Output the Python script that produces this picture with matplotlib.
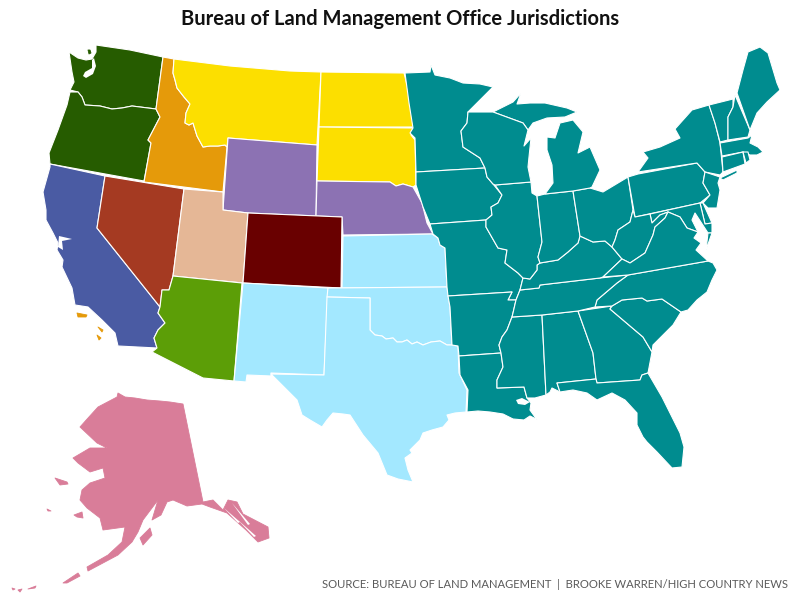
import matplotlib
matplotlib.use("Agg")
import matplotlib.pyplot as plt

# state outlines (x, y in picture pixels)
red_river = [(370,330),(375,335),(382,336),(386,339),(393,338),(397,342),(402,342),(407,340),(412,344),(417,342),(423,345),(431,342),(440,341),(447,345),(452,345)]
id_mt = [(174,59),(173,73),(175,80),(177,88),(184,97),(190,104),(186,113),(185,123),(189,125),(193,123),(197,136),(203,147),(210,146),(218,146),(225,145),(227,147)]

wa = [(96,45),(130,50),(163,57),(156,109),(132,106),(122,108),(112,109),(100,106),(85,105),(82,97),(78,92),(70,90),(74,82),(72,72),(69,52),(78,58),(86,60),(92,59),(96,52)]
or_ = [(70,92),(78,92),(82,97),(85,105),(100,106),(112,109),(122,108),(132,106),(156,109),(160,117),(148,140),(151,143),(144,181),(50,164),(49,153),(58,130),(67,105)]
id_ = [(163,57)] + id_mt + [(223,192),(144,182),(151,143),(148,140),(160,117),(156,109)]
mt = [(174,59),(230,66),(290,71),(321,72),(317,145),(228,138)] + id_mt[::-1][:-1]
wy = [(228,138),(317,145),(316,216),(248,213),(223,210)]
nd = [(321,72),(404,73),(410,97),(414,127),(319,127)]
sd = [(319,127),(413,128),(411,135),(415,140),(416,185),(413,187),(403,184),(396,186),(390,182),(317,181)]
ne = [(317,181),(390,182),(396,186),(403,184),(413,187),(422,203),(427,223),(433,234),(343,235),(342,217),(316,216)]
co = [(248,213),(342,217),(341,288),(243,283)]
ut = [(184,189),(223,192),(223,210),(248,213),(243,283),(173,276)]
nv = [(105,176),(184,189),(173,276),(169,290),(162,290),(160,307),(97,228)]
ca = [(50,164),(105,176),(97,228),(160,307),(158,313),(165,323),(158,330),(154,338),(157,348),(118,346),(115,333),(102,320),(88,307),(75,305),(72,288),(62,267),(63,260),(57,250),(58,243),(53,233),(46,220),(46,210),(43,192),(50,167)]
az = [(173,276),(242,283),(234,381),(203,378),(152,352),(157,348),(154,338),(158,330),(165,323),(158,313),(160,307),(162,290),(169,290)]
nm = [(243,283),(328,288),(324,375),(271,373),(271,376),(247,375),(246,382),(234,381)]
ks = [(343,236),(432,234),(438,238),(440,245),(445,248),(447,287),(342,288)]
ok = [(328,288),(447,287),(450,307),(452,345)] + red_river[::-1] + [(370,298),(327,297)]
tx = [(327,297),(370,298)] + red_river + [(458,346),(459,373),(467,390),(466,412),(455,413),(447,415),(449,420),(443,427),(432,430),(423,433),(420,440),(410,450),(412,453),(405,458),(408,470),(413,482),(398,479),(387,475),(378,453),(363,435),(350,415),(343,414),(333,413),(327,420),(322,427),(310,420),(302,415),(297,400),(271,374),(324,375)]
mn = [(405,73),(430,72),(431,65),(435,75),(450,78),(463,83),(480,84),(493,87),(468,112),(467,123),(461,131),(463,147),(480,158),(485,168),(416,172),(415,138),(410,133),(413,128),(409,103)]
ia = [(416,172),(485,168),(487,177),(493,184),(502,195),(498,203),(491,207),(492,215),(486,220),(430,224),(423,207),(416,185)]
mo = [(430,224),(486,220),(486,227),(498,248),(507,250),(505,263),(518,273),(523,278),(520,290),(516,300),(508,300),(512,292),(448,296),(447,287),(445,248),(440,245),(438,238),(433,234)]
ar = [(448,296),(512,292),(508,300),(516,300),(513,313),(512,317),(507,330),(502,337),(499,345),(501,353),(459,356),(458,346),(452,345),(450,307)]
la = [(459,356),(501,353),(503,367),(497,380),(497,388),(524,387),(527,398),(531,403),(530,410),(535,417),(538,420),(530,416),(524,420),(513,419),(503,414),(490,412),(478,411),(467,412),(468,390),(460,375)]
ms = [(512,317),(542,315),(546,395),(535,398),(527,398),(524,387),(497,388),(497,380),(503,367),(501,353),(499,345),(502,337),(507,330)]
al = [(542,315),(578,311),(593,353),(596,379),(557,383),(560,392),(552,388),(550,392),(546,395)]
ga = [(578,311),(612,306),(610,309),(643,337),(652,352),(648,373),(642,375),(640,380),(597,383),(596,379),(593,353)]
fl = [(557,383),(596,379),(597,383),(640,380),(642,375),(648,373),(662,397),(680,433),(684,447),(682,467),(672,468),(657,452),(647,442),(643,437),(637,425),(637,413),(625,400),(612,393),(597,400),(587,393),(573,390),(560,392)]
sc = [(612,306),(622,300),(642,298),(647,301),(662,299),(681,312),(673,325),(653,345),(652,352),(643,337),(610,309)]
nc = [(708,261),(713,263),(717,270),(712,280),(707,292),(697,300),(688,310),(681,312),(662,299),(647,301),(642,298),(622,300),(612,306),(595,307),(597,300),(617,283),(628,275)]
tn = [(628,275),(600,278),(540,285),(539,288),(520,290),(516,300),(513,313),(512,317),(542,315),(578,311),(595,307),(597,300),(617,283)]
ky = [(523,278),(520,290),(539,288),(540,285),(600,278),(603,277),(622,259),(612,247),(605,241),(593,242),(580,236),(578,243),(568,252),(558,260),(540,263),(537,265),(537,270),(530,279)]
il = [(495,185),(531,182),(532,193),(537,196),(542,242),(538,257),(540,263),(537,265),(537,270),(530,279),(523,278),(518,273),(505,263),(507,250),(498,248),(486,227),(486,220),(492,215),(491,207),(498,203),(502,195)]
in_ = [(537,196),(545,194),(573,191),(580,236),(578,243),(568,252),(558,260),(540,263),(538,257),(542,242)]
oh = [(573,191),(590,188),(603,192),(628,177),(633,210),(630,222),(618,230),(615,240),(612,247),(605,241),(593,242),(580,236)]
mi_lower = [(545,194),(553,183),(552,165),(547,150),(547,137),(555,138),(560,123),(573,120),(583,132),(578,153),(590,147),(600,170),(592,187),(590,188),(573,191)]
mi_upper = [(493,112),(513,102),(521,93),(517,104),(530,103),(545,103),(567,108),(577,112),(565,117),(547,118),(533,123),(528,130),(523,123)]
wi = [(468,112),(485,112),(493,112),(523,123),(528,130),(524,146),(531,138),(529,157),(528,167),(531,182),(495,185),(493,184),(487,177),(485,168),(480,158),(463,147),(461,131),(467,123)]
pa = [(628,177),(638,174),(697,163),(705,172),(703,183),(710,195),(700,203),(635,217)]
ny = [(638,172),(648,158),(643,152),(660,147),(680,138),(675,129),(692,110),(709,105),(715,123),(720,143),(723,172),(720,175),(705,172),(697,163)]
long_island = [(720,178),(737,170),(737,173),(723,180)]
vt = [(709,105),(733,99),(733,107),(728,117),(728,140),(720,142),(715,123)]
nh = [(735,95),(750,130),(748,137),(728,140),(728,117),(733,107)]
me = [(737,93),(743,70),(748,52),(760,47),(768,53),(777,83),(780,90),(767,102),(757,113),(750,130)]
ma = [(720,143),(748,138),(752,135),(750,143),(758,147),(763,152),(757,155),(750,155),(743,152),(722,156)]
ct = [(722,157),(743,152),(745,164),(723,172)]
ri = [(743,152),(748,152),(750,160),(746,163)]
nj = [(705,172),(720,177),(718,183),(720,190),(717,208),(708,208),(703,203),(710,195),(703,183)]
de = [(700,203),(703,203),(712,223),(705,224)]
md = [(650,214),(700,203),(705,224),(712,223),(712,233),(708,233),(695,213),(692,220),(698,232),(687,228),(680,217),(668,212),(660,215),(652,223)]
wv = [(633,210),(635,217),(650,214),(652,223),(660,215),(668,212),(665,218),(655,227),(653,235),(645,253),(630,263),(622,259),(612,247),(615,240),(618,230),(630,222)]
va = [(603,277),(622,259),(630,263),(645,253),(653,235),(655,227),(665,218),(668,212),(680,217),(687,228),(698,232),(694,238),(701,243),(696,250),(708,261),(628,275)]
va_shore = [(708,233),(712,233),(706,250)]
ak = [(118,393),(125,397),(135,398),(147,400),(160,401),(170,402),(183,404),(203,502),(213,500),(223,510),(228,500),(237,502),(243,514),(268,527),(269,538),(258,542),(246,530),(227,513),(210,507),(202,504),(187,506),(173,500),(167,502),(161,515),(152,520),(158,500),(143,520),(138,532),(132,542),(118,555),(88,571),(87,567),(108,555),(122,542),(125,527),(103,530),(100,518),(87,508),(80,500),(82,490),(90,483),(105,478),(103,468),(90,472),(78,463),(73,458),(90,448),(107,448),(97,443),(80,427),(88,418),(98,407),(117,397)]
kodiak = [(140,538),(150,528),(152,535),(143,545)]
nunivak = [(74,515),(82,512),(83,518),(77,517)]
st_lawrence = [(55,478),(67,482),(68,484),(60,485)]
aleut_1 = [(63,583),(78,573),(80,576),(67,583)]
aleut_2 = [(28,589),(36,586),(35,588)]
aleut_3 = [(18,590),(22,589),(20,592)]
aleut_4 = [(12,588),(15,589),(13,590)]
st_matthew = [(47,509),(51,511),(48,511)]
san_juan = [(88,50),(90,50),(91,53),(89,54)]
channel_1 = [(77,313),(87,315),(86,317),(78,317)]
channel_2 = [(98,327),(103,330),(102,332)]
channel_3 = [(97,335),(101,338),(99,340)]

# water cut into the land
puget = [(85,72),(83,76),(86,78),(93,74),(96,66),(94,58),(92,60),(92,68)]
sf_bay = [(59,236),(72,239),(62,241),(63,250),(58,247)]
pontchartrain = [(516,400),(522,398),(530,402),(525,405),(518,404)]
ak_inner_1 = [(232,503),(250,524),(248,525)]
ak_inner_2 = [(238,520),(256,536),(254,537)]
ak_inner_3 = [(224,508),(240,522),(238,523)]

green, orange, yellow, purple = "#265c00", "#e59a0a", "#fcdf00", "#8c72b3"
blue, rust, tan, maroon = "#4a5ba3", "#a53a22", "#e5b796", "#690000"
lime, sky, teal, pink = "#5c9e07", "#a3e8ff", "#008c8f", "#d97d99"

office_states = [
    (green, [wa, or_]),
    (orange, [id_]),
    (yellow, [mt, nd, sd]),
    (purple, [wy, ne]),
    (blue, [ca]),
    (rust, [nv]),
    (tan, [ut]),
    (maroon, [co]),
    (lime, [az]),
    (sky, [nm, ks, ok, tx]),
    (teal, [mn, ia, mo, ar, la, ms, al, ga, fl, sc, nc, tn, ky, il, in_, oh, mi_lower, mi_upper, wi,
            pa, ny, long_island, vt, nh, me, ma, ct, ri, nj, de, md, wv, va, va_shore]),
]
no_border = [
    (orange, [channel_1, channel_2, channel_3]),
    (green, [san_juan]),
    (pink, [ak, kodiak, nunivak, st_lawrence, aleut_1, aleut_2, aleut_3, aleut_4, st_matthew]),
]
water = [puget, sf_bay, pontchartrain, ak_inner_1, ak_inner_2, ak_inner_3]

fig = plt.figure(figsize=(8, 6), dpi=100)
ax = fig.add_axes([0, 0, 1, 1])
ax.set_xlim(0, 800)
ax.set_ylim(600, 0)
ax.axis("off")

for color, shapes in office_states:
    for shape in shapes:
        ax.fill(*zip(*shape), facecolor=color, edgecolor="white", linewidth=0.8, joinstyle="round")

for color, shapes in no_border:
    for shape in shapes:
        ax.fill(*zip(*shape), facecolor=color, edgecolor=color, linewidth=0.6, joinstyle="round")

for shape in water:
    ax.fill(*zip(*shape), facecolor="white", edgecolor="none")

ax.text(400, 19, "Bureau of Land Management Office Jurisdictions", ha="center", va="center",
        fontsize=14.5, fontweight="bold", family="Lato", color="#111111")
ax.text(788, 585, "SOURCE: BUREAU OF LAND MANAGEMENT  |  BROOKE WARREN/HIGH COUNTRY NEWS", ha="right", va="center",
        fontsize=8.07, family="Lato", color="#5a5a5a")

fig.savefig("out.png", dpi=100)
